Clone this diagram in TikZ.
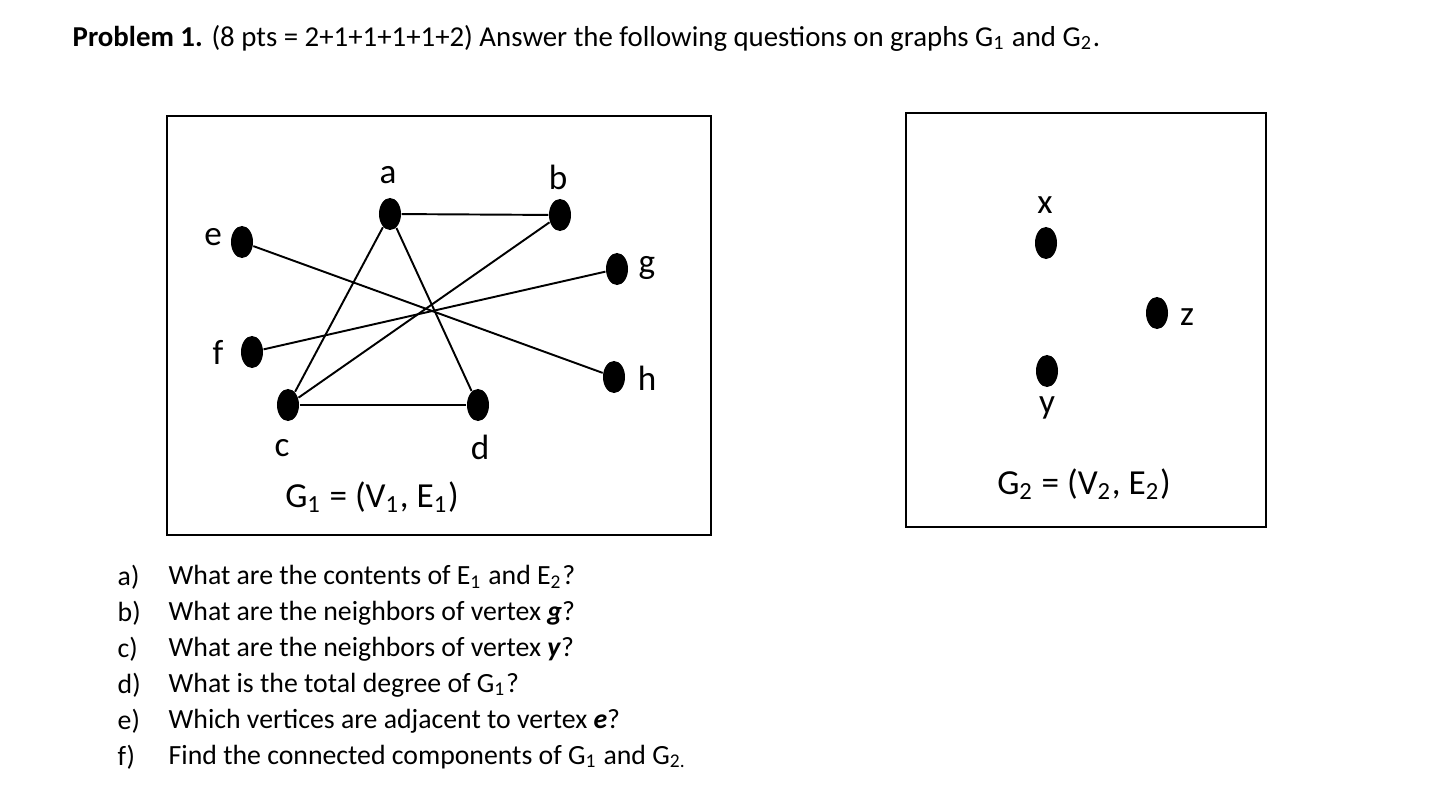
\documentclass[tikz,border=0pt]{standalone}
\usepackage{fontspec}
\usetikzlibrary{shapes.geometric}
\setmainfont{Carlito}
\begin{document}
\begin{tikzpicture}[x=0.01cm,y=-0.01cm,
  v/.style={fill=black,ellipse,minimum width=0.22cm,minimum height=0.32cm,inner sep=0pt},
  lab/.style={font=\fontsize{10pt}{11pt}\selectfont,inner sep=0pt},
  txt/.style={font=\fontsize{7.9pt}{9pt}\selectfont,inner sep=0pt,anchor=west},
  ed/.style={line width=0.55pt}]
\useasboundingbox (0,0) rectangle (1442,800);
\draw[line width=0.6pt] (167,116) rectangle (711,535);
\draw[line width=0.6pt] (906,113) rectangle (1266,527);
\node[txt,font=\fontsize{8.2pt}{9pt}\selectfont] (t) at (72,38) {\textbf{Problem 1.} (8 pts = 2+1+1+1+1+2) Answer the following questions on graphs G\textsubscript{1} and G\textsubscript{2}.};
\node[v] (a) at (390,214) {}; \node[v] (b) at (560,215) {};
\node[v] (e) at (242,242) {}; \node[v] (g) at (617,269) {};
\node[v] (f) at (252,352) {}; \node[v] (h) at (614,377) {};
\node[v] (c) at (288,405) {}; \node[v] (d) at (478,405) {};
\node[lab] (la) at (388,175) {a}; \node[lab] (lb) at (558,177) {b};
\node[lab] (le) at (213,237) {e}; \node[lab] (lg) at (647,268) {g};
\node[lab] (lf) at (218,352) {f}; \node[lab] (lh) at (647,378) {h};
\node[lab] (lc) at (282,448) {c}; \node[lab] (ld) at (480,447) {d};
\node[lab] (g1) at (372,497) {G\textsubscript{1} = (V\textsubscript{1}, E\textsubscript{1})};
\draw[ed] (a) -- (b); \draw[ed] (a) -- (c); \draw[ed] (a) -- (d);
\draw[ed] (c) -- (d); \draw[ed] (c) -- (b); \draw[ed] (e) -- (h); \draw[ed] (f) -- (g);
\node[v] (x) at (1046,243) {}; \node[v] (z) at (1157,313) {}; \node[v] (y) at (1047,371) {};
\node[lab] (lx) at (1045,205) {x}; \node[lab] (lz) at (1187,317) {z}; \node[lab] (ly) at (1047,408) {y};
\node[lab] (g2) at (1084,484) {G\textsubscript{2} = (V\textsubscript{2}, E\textsubscript{2})};
\foreach \l/\t [count=\i from 0] in {a)/What are the contents of E\textsubscript{1} and E\textsubscript{2}?,
 b)/What are the neighbors of vertex \textbf{\textit{g}}?,
 c)/What are the neighbors of vertex \textbf{\textit{y}}?,
 d)/What is the total degree of G\textsubscript{1}?,
 e)/Which vertices are adjacent to vertex \textbf{\textit{e}}?,
 f)/Find the connected components of G\textsubscript{1} and G\textsubscript{2.}}{
 \node[txt] (q\i) at (117,{577+36*\i}) {\l};
 \node[txt] (s\i) at (168,{577+36*\i}) {\t};
}
\end{tikzpicture}
\end{document}
